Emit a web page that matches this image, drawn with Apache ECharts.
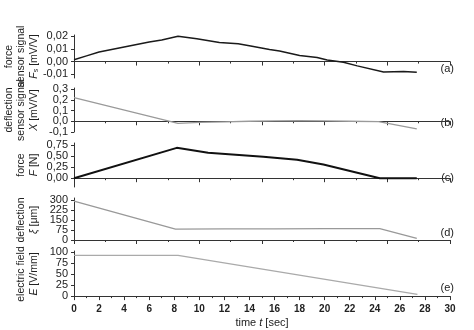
<!DOCTYPE html>
<html>
<head>
<meta charset="utf-8">
<script src="https://cdn.jsdelivr.net/npm/echarts@6/dist/echarts.min.js"></script>
<style>
  html, body { margin: 0; padding: 0; background: #fff; }
  #main { width: 474px; height: 330px; }
</style>
</head>
<body>
<div id="main"></div>
<script>
var myChart = echarts.init(document.getElementById('main'));

// (a) force sensor signal
var tForceSig = [0, 1, 2, 3, 4, 5, 6, 7, 8.3, 9.8, 11.6, 13.1, 14.1, 15.6, 16.4, 18.0, 19.4, 20.2, 21.5, 22.6, 24.7, 26.3, 27.35];
var forceSig = [0.0015, 0.0045, 0.0075, 0.0095, 0.0115, 0.0135, 0.0155, 0.017, 0.020, 0.018, 0.015, 0.014, 0.0123, 0.0095, 0.0084, 0.0048, 0.0032, 0.0013, -0.0005, -0.0034, -0.0082, -0.0079, -0.0084];
// (b) deflection sensor signal
var tDeflSig = [0, 8.3, 10, 12, 14, 16, 18, 20, 22, 24.3, 27.35];
var deflSig = [0.22, -0.02, -0.01, -0.005, 0, 0.003, 0.005, 0.003, 0, -0.003, -0.07];
// (c) force
var tForce = [0, 8.2, 10.7, 15.1, 17.8, 19.9, 24.4, 27.35];
var force = [0, 0.69, 0.58, 0.49, 0.42, 0.31, 0.0, 0.0];
// (d) deflection
var tDefl = [0, 8.1, 12, 16, 20, 24.4, 27.35];
var defl = [292, 82, 83, 84, 85, 86, 13];
// (e) electric field
var tField = [0, 8.3, 27.4];
var field = [92, 92, 4];

var yTicksA = [-0.01, 0, 0.01, 0.02];
var yTicksB = [-0.1, 0, 0.1, 0.2, 0.3];
var yTicksC = [0, 0.25, 0.5, 0.75];
var yTicksD = [0, 75, 150, 225, 300];
var yTicksE = [0, 25, 50, 75, 100];
var panelTags = ['(a)', '(b)', '(c)', '(d)', '(e)'];

function pairs(xs, ys) {
  return xs.map(function (x, i) { return [x, ys[i]]; });
}
function comma(d) {
  return function (v) { return d == null ? String(v) : v.toFixed(d).replace('.', ','); };
}
function every(arr, start) {
  return arr.filter(function (v, i) { return i % 2 === start; });
}

var font = 'Liberation Sans, Arial, sans-serif';
var rich = {
  i: { fontStyle: 'italic', fontSize: 10.5, fontFamily: font, color: '#222', lineHeight: 12.5 },
  sub: { fontSize: 7, fontFamily: font, color: '#222', verticalAlign: 'bottom', lineHeight: 12.5 }
};

var panels = [
  { top: 35, height: 43, min: -0.013, max: 0.021, ticks: yTicksA, dec: 2, data: pairs(tForceSig, forceSig), color: '#1a1a1a', width: 1.5,
    name: 'force\nsensor signal\n{i|F}{sub|s} [mV/V]' },
  { top: 88, height: 44, min: -0.1, max: 0.31, ticks: yTicksB, dec: 1, data: pairs(tDeflSig, deflSig), color: '#9a9a9a', width: 1.3,
    name: 'deflection\nsensor signal\n{i|X} [mV/V]' },
  { top: 143, height: 44, min: -0.2, max: 0.8, ticks: yTicksC, dec: 2, data: pairs(tForce, force), color: '#111', width: 2,
    name: 'force\n{i|F} [N]' },
  { top: 198, height: 44, min: -15, max: 315, ticks: yTicksD, dec: null, data: pairs(tDefl, defl), color: '#999', width: 1.3,
    name: 'deflection\n{i|ξ} [μm]' },
  { top: 251, height: 46, min: -2, max: 102, ticks: yTicksE, dec: null, data: pairs(tField, field), color: '#aaa', width: 1.3,
    name: 'electric field\n{i|E} [V/mm]' }
];

var grid = [], xAxis = [], yAxis = [], series = [], graphic = [];
panels.forEach(function (p, k) {
  var last = k === panels.length - 1;
  grid.push({ left: 74, width: 376, top: p.top, height: p.height, outerBoundsMode: 'none', containLabel: false });
  xAxis.push({
    type: 'value', gridIndex: k, min: 0, max: 30, interval: last ? 2 : 5,
    axisLine: { lineStyle: { color: '#333', width: 1 } },
    axisTick: { length: 4, lineStyle: { color: '#333' } },
    minorTick: { show: true, splitNumber: 2, length: 2, lineStyle: { color: '#333' } },
    splitLine: { show: false },
    axisLabel: { show: last, color: '#222', fontSize: 10, fontWeight: 'bold', fontFamily: font, margin: 7 },
    name: last ? '{n|time }{i|t}{n| [sec]}' : '',
    nameLocation: 'middle', nameGap: 20,
    nameTextStyle: { rich: { n: { fontSize: 11, fontFamily: font, color: '#222' }, i: { fontStyle: 'italic', fontSize: 11, fontFamily: font, color: '#222' } } }
  });
  var labelBase = { interval: 0, showMinLabel: true, showMaxLabel: true, hideOverlap: false,
    formatter: comma(p.dec), color: '#222', fontSize: 11, fontFamily: font, margin: 6 };
  // main axis: line, ticks, every other label
  yAxis.push({
    type: 'value', gridIndex: k, min: p.min, max: p.max,
    axisLine: { show: true, lineStyle: { color: '#333', width: 1 } },
    axisTick: { show: true, length: 3, customValues: p.ticks, lineStyle: { color: '#333' } },
    axisLabel: Object.assign({ customValues: every(p.ticks, 0) }, labelBase),
    splitLine: { show: false },
    name: p.name, nameLocation: 'middle', nameRotate: 90, nameGap: 34, nameMoveOverlap: false,
    nameTextStyle: { fontSize: 10.5, fontFamily: font, color: '#222', lineHeight: 12.5, rich: rich }
  });
  // companion axis on the same side carrying the remaining labels
  yAxis.push({
    type: 'value', gridIndex: k, min: p.min, max: p.max, position: 'left', offset: 0,
    axisLine: { show: false }, axisTick: { show: false },
    axisLabel: Object.assign({ customValues: every(p.ticks, 1) }, labelBase),
    splitLine: { show: false }
  });
  series.push({
    type: 'line', xAxisIndex: k, yAxisIndex: 2 * k, data: p.data, showSymbol: false,
    lineStyle: { color: p.color, width: p.width }, animation: false
  });
  graphic.push({
    type: 'text', right: 20, top: p.top + p.height - 15,
    style: { text: panelTags[k], fill: '#222', font: '11px ' + font }
  });
});

var option = {
  animation: false,
  grid: grid,
  xAxis: xAxis,
  yAxis: yAxis,
  series: series,
  graphic: graphic
};
myChart.setOption(option);
</script>
</body>
</html>
